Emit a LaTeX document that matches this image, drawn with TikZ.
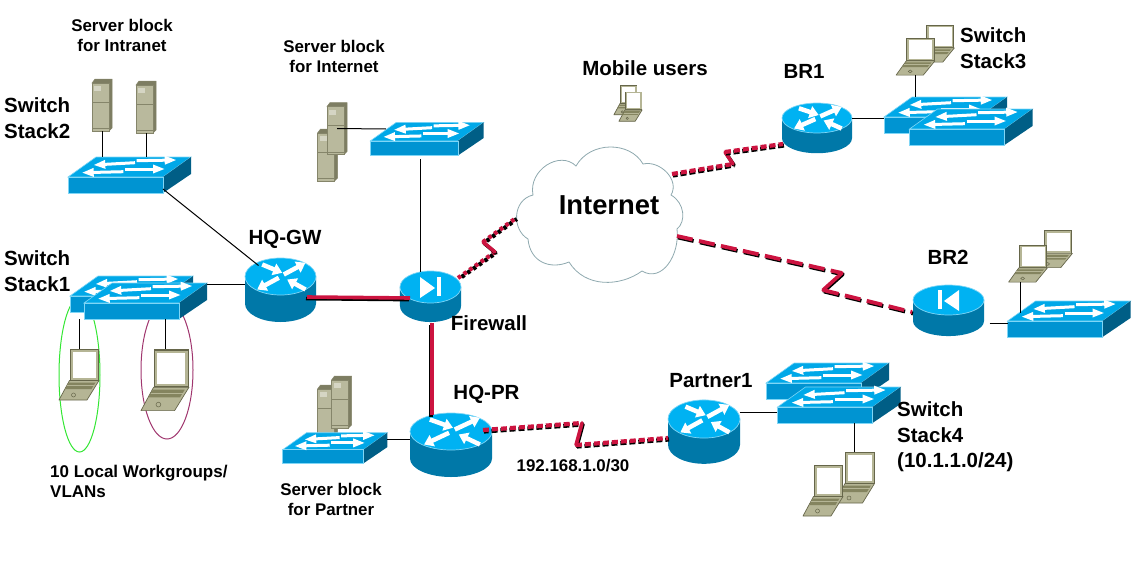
\documentclass[tikz,border=0pt]{standalone}
\usepackage{fontspec}
\setmainfont{Liberation Sans}
\usepackage{xcolor}
\usetikzlibrary{arrows.meta,shapes.geometric}

\definecolor{swtop}{HTML}{00A8E8}
\definecolor{swfront}{HTML}{0094D2}
\definecolor{swside}{HTML}{005E86}
\definecolor{swedge}{HTML}{7FD6F6}
\definecolor{rttop}{HTML}{00B2F2}
\definecolor{rtbody}{HTML}{0078A8}
\definecolor{srvface}{HTML}{B9B99D}
\definecolor{srvside}{HTML}{7D7D62}
\definecolor{srvline}{HTML}{85856A}
\definecolor{lapdark}{HTML}{66664A}
\definecolor{lapbase}{HTML}{B5B595}
\definecolor{lapkeys}{HTML}{84845F}
\definecolor{linkred}{HTML}{CC1440}
\definecolor{cloudline}{HTML}{8FA9AF}
\definecolor{vlangreen}{HTML}{33E633}
\definecolor{vlanmaroon}{HTML}{A0366E}

\tikzset{
    lbl/.style={font=\bfseries\fontsize{20.5}{25.5}\selectfont, align=left, inner sep=0pt},
    srvlbl/.style={font=\bfseries\fontsize{16.9}{20}\selectfont, align=center, inner sep=0pt},
    swbox/.style={rectangle, minimum width=123pt, minimum height=36pt, inner sep=0pt},
    srvbox/.style={rectangle, minimum width=20pt, minimum height=52pt, inner sep=0pt},
    lapbox/.style={rectangle, minimum width=40pt, minimum height=51pt, inner sep=0pt},
    rtbox/.style={ellipse, minimum width=71pt, minimum height=37pt, inner sep=0pt},
    thin link/.style={draw=black, line width=1pt},
    swarrow/.style={white, line width=3pt, -{Triangle[width=8pt,length=12pt]}},
    rtarrow/.style={white, line width=4.5pt, -{Triangle[width=12pt,length=9pt]}},
    lanlink/.style={draw=linkred, line width=3.6pt,
        preaction={draw=black, line width=3.6pt, transform canvas={shift={(-1pt,-1.6pt)}}}},
    kinklink/.style={draw=linkred, line width=3.6pt, line cap=round,
        preaction={draw=black, line width=3.6pt, line cap=round, transform canvas={shift={(1pt,-1.2pt)}}}},
    fwlink/.style={draw=linkred, line width=4.2pt, dash pattern=on 3.5pt off 3.5pt,
        preaction={draw=black, line width=4.2pt, dash pattern=on 3.5pt off 3.5pt, dash phase=3.5pt,
        transform canvas={shift={(.8pt,-1pt)}}}},
    wanlink/.style={draw=linkred, line width=4.2pt, dash pattern=on 6pt off 3pt,
        preaction={draw=black, line width=4.2pt, dash pattern=on 6pt off 3pt, dash phase=1.5pt,
        transform canvas={shift={(1pt,-1.5pt)}}}},
    longlink/.style={draw=linkred, line width=3.8pt, dash pattern=on 16pt off 6.5pt,
        preaction={draw=black, line width=3.8pt, dash pattern=on 16pt off 6.5pt,
        transform canvas={shift={(1pt,-1.5pt)}}}},
    swicon/.pic={
        \filldraw[fill=swtop, draw=swedge, line width=.6pt] (-61.5,2) -- (-33.5,-18) -- (61.5,-18) -- (33.5,2) -- cycle;
        \fill[swside] (33.5,2) -- (61.5,-18) -- (61.5,-1) -- (33.5,18) -- cycle;
        \filldraw[fill=swfront, draw=swedge, line width=.6pt] (-61.5,2) rectangle (33.5,18);
        \draw[swarrow] (5.5,-12.3) -- (-36.2,-10);
        \draw[swarrow] (7.2,-14.3) -- (47.2,-15);
        \draw[swarrow] (-6.2,-3.3) -- (-47.8,-2.3);
        \draw[swarrow] (-4.5,-6) -- (35.5,-6);
    },
    pics/routerbase/.style={code={
        \fill[rtbody] (-35.5,0) -- (-35.5,#1) arc[x radius=35.5, y radius=18.5, start angle=180, end angle=0] -- (35.5,0) -- cycle;
        \filldraw[fill=rttop, draw=swedge, line width=.7pt] (0,0) ellipse [x radius=35.5, y radius=18.5];
    }},
    routerarrows/.pic={
        \draw[rtarrow] (-18.3,-12) -- (1.7,-3.7);
        \draw[rtarrow] (3.3,-2) -- (25,-13.7);
        \draw[rtarrow] (-1.7,1.3) -- (-23.3,13);
        \draw[rtarrow] (25,13) -- (6.7,3);
    },
    fwmark/.pic={
        \fill[white] (-10.5,-10) -- (-10.5,11) -- (4.5,1) -- cycle;
        \fill[white] (6.5,-10) rectangle (10.5,9);
    },
    srvicon/.pic={
        \filldraw[fill=srvside, draw=srvline, line width=.5pt] (-10,-22) -- (-7,-26) -- (10,-26) -- (10,23) -- (7,26) -- cycle;
        \filldraw[fill=srvface, draw=srvline, line width=.5pt] (-10,-22) rectangle (7,26);
        \fill[srvface!60!white] (-8,-19) rectangle (-1,-14);
        \draw[srvline, line width=.5pt] (-10,-3) -- (7,-3) (-10,23.5) -- (7,23.5);
    },
    lapicon/.pic={
        \fill[lapdark] (-9.5,-25.5) rectangle (20,6);
        \fill[lapbase] (-8.5,-24.5) rectangle (19,5);
        \fill[white] (-6.5,-22.5) rectangle (17,3);
        \filldraw[fill=lapbase, draw=lapdark, line width=.7pt, line join=round] (-9.5,6) -- (20,6) -- (8,25.5) -- (-20,25.5) -- cycle;
        \fill[lapkeys] (-10,8) -- (16.5,8) -- (12.5,14.5) -- (-14,14.5) -- cycle;
        \draw[lapbase, line width=.6pt] (-12,11) -- (15,11);
        \draw[lapdark, line width=.5pt] (-5.5,20.5) circle (2);
    },
}

\begin{document}
\begin{tikzpicture}[x=1pt, y=-1pt]
    \useasboundingbox (0,0) rectangle (1142,578);

    \node (vlan1) [ellipse, draw=vlangreen, line width=1pt, minimum width=41pt, minimum height=154pt, inner sep=0pt] at (79.5,375) {};
    \node (vlan2) [ellipse, draw=vlanmaroon, line width=1pt, minimum width=52pt, minimum height=138pt, inner sep=0pt] at (167,370) {};

    \node (srv2a) [srvbox] at (102,105) {}; \pic at (srv2a) {srvicon};
    \node (srv2b) [srvbox] at (146,107) {}; \pic at (srv2b) {srvicon};
    \node (srvi2) [srvbox] at (327.5,155) {}; \pic at (srvi2) {srvicon};
    \node (srvi1) [srvbox] at (337,128.5) {}; \pic at (srvi1) {srvicon};
    \node (srvp2) [srvbox] at (327.5,411) {}; \pic at (srvp2) {srvicon};
    \node (srvp1) [srvbox] at (341.5,402) {}; \pic at (srvp1) {srvicon};

    \node (sw2) [swbox] at (129.5,175) {}; \pic at (sw2) {swicon};
    \node (swnet) [swbox, scale=.92] at (427,139) {}; \pic[scale=.92] at (swnet) {swicon};
    \node (sw1a) [swbox] at (131.5,294) {}; \pic at (sw1a) {swicon};
    \node (sw1b) [swbox] at (145.5,301) {}; \pic at (sw1b) {swicon};
    \node (sw3a) [swbox] at (945.5,115) {}; \pic at (sw3a) {swicon};
    \node (sw3b) [swbox] at (971,127) {}; \pic at (sw3b) {swicon};
    \node (sw5) [swbox] at (1069,319) {}; \pic at (sw5) {swicon};
    \node (swpar) [swbox, scale=.85] at (335,448) {}; \pic[scale=.85] at (swpar) {swicon};
    \node (sw4a) [swbox] at (827.5,381) {}; \pic at (sw4a) {swicon};
    \node (sw4b) [swbox] at (839,405) {}; \pic at (sw4b) {swicon};

    \node (lap1) [lapbox] at (79,374.5) {}; \pic at (lap1) {lapicon};
    \node (lap2) [lapbox, scale=1.2] at (165,380) {}; \pic[scale=1.2] at (lap2) {lapicon};
    \node (lap3b) [lapbox, xscale=.97, yscale=.73] at (935,43.5) {}; \pic[xscale=.97, yscale=.73] at (lap3b) {lapicon};
    \node (lap3a) [lapbox, xscale=.97, yscale=.73] at (915.5,56.5) {}; \pic[xscale=.97, yscale=.73] at (lap3a) {lapicon};
    \node (lap5b) [lapbox, xscale=.97, yscale=.73] at (1053,249) {}; \pic[xscale=.97, yscale=.73] at (lap5b) {lapicon};
    \node (lap5a) [lapbox, xscale=.97, yscale=.73] at (1028,263.5) {}; \pic[xscale=.97, yscale=.73] at (lap5a) {lapicon};
    \node (lap4b) [lapbox] at (854.5,477.5) {}; \pic at (lap4b) {lapicon};
    \node (lap4a) [lapbox] at (823,490.5) {}; \pic at (lap4a) {lapicon};
    \node (mob1) [lapbox, scale=.58] at (625.5,100) {}; \pic[scale=.58] at (mob1) {lapicon};
    \node (mob2) [lapbox, scale=.58] at (630.5,106.5) {}; \pic[scale=.58] at (mob2) {lapicon};

    \node (hqgw) [rtbox] at (280.5,276.5) {}; \pic at (hqgw) {routerbase=27}; \pic at (hqgw) {routerarrows};
    \node (fw) [rtbox, xscale=.86, yscale=.865] at (430.5,287) {}; \pic[xscale=.86, yscale=.865] at (fw) {routerbase=22}; \pic at (fw) {fwmark};
    \node (hqpr) [rtbox, xscale=1.155] at (451,431.5) {}; \pic[xscale=1.155] at (hqpr) {routerbase=27}; \pic[xscale=1.155] at (hqpr) {routerarrows};
    \node (part) [rtbox, xscale=1.014, yscale=1.03] at (704,419) {}; \pic[xscale=1.014, yscale=1.03] at (part) {routerbase=25}; \pic[xscale=1.014, yscale=1.03] at (part) {routerarrows};
    \node (br1) [rtbox, xscale=.986, yscale=.81] at (817,118) {}; \pic[xscale=.986, yscale=.81] at (br1) {routerbase=25}; \pic[xscale=.986, yscale=.81] at (br1) {routerarrows};
    \node (br2) [rtbox, yscale=.81] at (948.5,300) {}; \pic[yscale=.81] at (br2) {routerbase=26}; \pic[xscale=-1] at (br2) {fwmark};

    \filldraw[fill=white, draw=cloudline, line width=.8pt] (533,195)
        .. controls (528,170) and (560,150) .. (576,166)
        .. controls (590,141) and (630,141) .. (643,164)
        .. controls (660,160) and (680,180) .. (671,195)
        .. controls (685,203) and (686,222) .. (677,229)
        .. controls (680,255) and (662,283) .. (642,271)
        .. controls (620,287) and (585,288) .. (569,262)
        .. controls (550,270) and (530,262) .. (528,239)
        .. controls (512,230) and (512,200) .. (533,195) -- cycle;
    \node (inet) [lbl, font=\bfseries\fontsize{27.4}{30}\selectfont] at (609,205) {Internet};

    \node (t2) [lbl, anchor=west] at (4,118) {Switch\\Stack2};
    \node (t1) [lbl, anchor=west] at (4,271) {Switch\\Stack1};
    \node (t3) [lbl, anchor=west] at (960,48) {Switch\\Stack3};
    \node (t4) [lbl, anchor=west] at (897,437) {Switch\\Stack4\\(10.1.1.0/24)};
    \node (tgw) [lbl] at (285,239) {HQ-GW};
    \node (tfw) [lbl] at (489,323) {Firewall};
    \node (tpr) [lbl] at (486.5,394) {HQ-PR};
    \node (tpart) [lbl] at (711,381) {Partner1};
    \node (tbr1) [lbl] at (804,71) {BR1};
    \node (tbr2) [lbl] at (948,257) {BR2};
    \node (tmob) [lbl] at (645,68) {Mobile users};
    \node (tsi) [srvlbl] at (122,35) {Server block\\for Intranet};
    \node (tsn) [srvlbl] at (334,56) {Server block\\for Internet};
    \node (tsp) [srvlbl] at (331,499) {Server block\\for Partner};
    \node (tip) [srvlbl] at (573,466) {192.168.1.0/30};
    \node (tvl) [srvlbl, align=left, anchor=west, font=\bfseries\fontsize{17}{20}\selectfont] at (50,481) {10 Local Workgroups/\\VLANs};

    \coordinate (kfw1) at (495,252);
    \coordinate (kfw2) at (483,242);
    \coordinate (kbr1a) at (733,164);
    \coordinate (kbr1b) at (725,152);
    \coordinate (kbr2a) at (842,273);
    \coordinate (kbr2b) at (823,290);
    \coordinate (kpa) at (582,423);
    \coordinate (kpb) at (576,445);

    \draw[thin link] (srv2a.south) -- (srv2a.south |- sw2.north);
    \draw[thin link] (srv2b.south) -- (srv2b.south |- sw2.north);
    \draw[thin link] ([shift={(33.5,14)}]sw2.center) -- ([shift={(-22,-11)}]hqgw.center);
    \draw[thin link] ([shift={(61.5,-17)}]sw1b.center) -- ([shift={(-35.5,7.5)}]hqgw.center);
    \draw[thin link] (lap1.north) -- (lap1.north |- sw1b.south);
    \draw[thin link] (lap2.north) -- (lap2.north |- sw1b.south);
    \draw[thin link] (srvi1.center) -- ([shift={(-41,-10)}]swnet.center);
    \draw[thin link] ([shift={(-7,20)}]swnet.center) -- ([shift={(-10.5,-15)}]fw.center);
    \draw[thin link] ([shift={(52,-9)}]swpar.center) -- ([shift={(-41,7.5)}]hqpr.center);
    \draw[thin link] (br1.east) -- (br1.east -| sw3a.west);
    \draw[thin link] (lap3a.south) -- (lap3a.south |- sw3a.north);
    \draw[thin link] ([shift={(41,23)}]br2.center) -- ([shift={(-61.5,4)}]sw5.center);
    \draw[thin link] ([shift={(-8,18.5)}]lap5a.center) -- ([shift={(-49,-6)}]sw5.center);
    \draw[thin link] ([shift={(35.5,-7)}]part.center) -- ([shift={(-62,7)}]sw4b.center);
    \draw[thin link] (lap4b.north) -- (lap4b.north |- sw4b.south);

    \draw[lanlink] ([shift={(26.5,20.5)}]hqgw.center) -- ([shift={(-20.5,11)}]fw.center);
    \draw[lanlink] ([shift={(1.5,36)}]fw.center) -- ([shift={(-19,-16.5)}]hqpr.center);

    \draw[fwlink] ([shift={(27.5,-9)}]fw.center) -- (kfw1);
    \draw[kinklink] (kfw1) -- (kfw2);
    \draw[fwlink] (kfw2) -- ([shift={(-93,13)}]inet.center);
    \draw[wanlink] ([shift={(63,-31)}]inet.center) -- (kbr1a);
    \draw[kinklink] (kbr1a) -- (kbr1b);
    \draw[wanlink] (kbr1b) -- ([shift={(-34,26)}]br1.center);
    \draw[wanlink] ([shift={(32,-1.5)}]hqpr.center) -- (kpa);
    \draw[kinklink] (kpa) -- (kpb);
    \draw[wanlink] (kpb) -- ([shift={(-36,19)}]part.center);
    \draw[longlink] ([shift={(68,31)}]inet.center) -- (kbr2a);
    \draw[kinklink] (kbr2a) -- (kbr2b);
    \draw[longlink] (kbr2b) -- ([shift={(-36.5,12)}]br2.center);
\end{tikzpicture}
\end{document}
